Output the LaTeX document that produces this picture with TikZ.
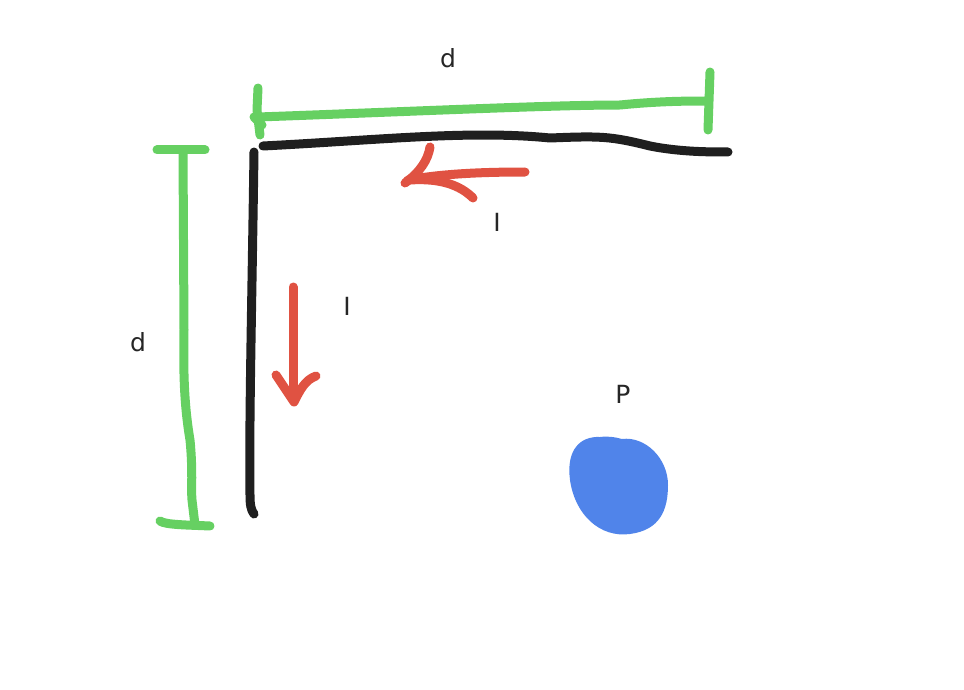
\documentclass[tikz,border=0pt]{standalone}
\usepackage{fontspec}
\setmainfont{DejaVu Sans}
\definecolor{dimgreen}{RGB}{102,208,98}
\definecolor{curred}{RGB}{224,82,66}
\definecolor{pblue}{RGB}{80,132,234}
\begin{document}
\begin{tikzpicture}[x=1pt,y=-1pt,
  stroke/.style={line width=9pt,line cap=round,line join=round},
  wire/.style={stroke,draw=black!88},
  dim/.style={stroke,draw=dimgreen},
  cur/.style={stroke,draw=curred},
  lbl/.style={font=\fontsize{25}{30}\selectfont,text=black!85}]
\useasboundingbox (0,0) rectangle (964,690);
% wires
\draw[wire] (263,146) .. controls (380,140) and (470,130) .. (550,138) .. controls (600,136) and (610,136) .. (650,146) .. controls (680,152) and (710,152) .. (728,152);
\draw[wire] (254,152) .. controls (252,300) and (249,420) .. (250,495) .. controls (250,505) and (251,510) .. (254,514);
% top dimension
\draw[dim] (258,117) .. controls (400,112) and (550,105) .. (620,105) .. controls (660,101) and (690,101) .. (708,101);
\draw[dim] (258,88) -- (257,110) -- (260,135);
\draw[dim] (254,117) -- (262,125);
\draw[dim] (710,72) -- (708,130);
% left dimension
\draw[dim] (157,150) -- (205,150);
\draw[dim] (183,150) -- (184,330) .. controls (183,380) and (185,410) .. (190,440) .. controls (193,470) and (191,490) .. (192,500) -- (195,525);
\draw[dim] (160,521) .. controls (165,525) and (190,525) .. (210,526);
% currents
\draw[cur] (525,172) .. controls (480,172) and (440,174) .. (408,180);
\draw[cur] (430,147) .. controls (428,160) and (420,172) .. (405,183);
\draw[cur] (410,180) .. controls (440,178) and (460,185) .. (473,198);
\draw[cur] (293,287) -- (293,400);
\draw[cur] (276,375) -- (294,402) .. controls (300,390) and (305,380) .. (316,376);
% point P
\fill[pblue] (600,437) .. controls (580,436) and (566,450) .. (570,480) .. controls (575,515) and (600,538) .. (630,534) .. controls (660,530) and (668,510) .. (668,485) .. controls (668,458) and (645,436) .. (622,439) .. controls (615,437) and (608,436) .. (600,437) -- cycle;
% labels
\node[lbl] (ld1) at (448,58) {d};
\node[lbl] (li1) at (497,222) {I};
\node[lbl] (li2) at (347,306) {I};
\node[lbl] (ld2) at (138,342) {d};
\node[lbl] (lp) at (623,394) {P};
\end{tikzpicture}
\end{document}
